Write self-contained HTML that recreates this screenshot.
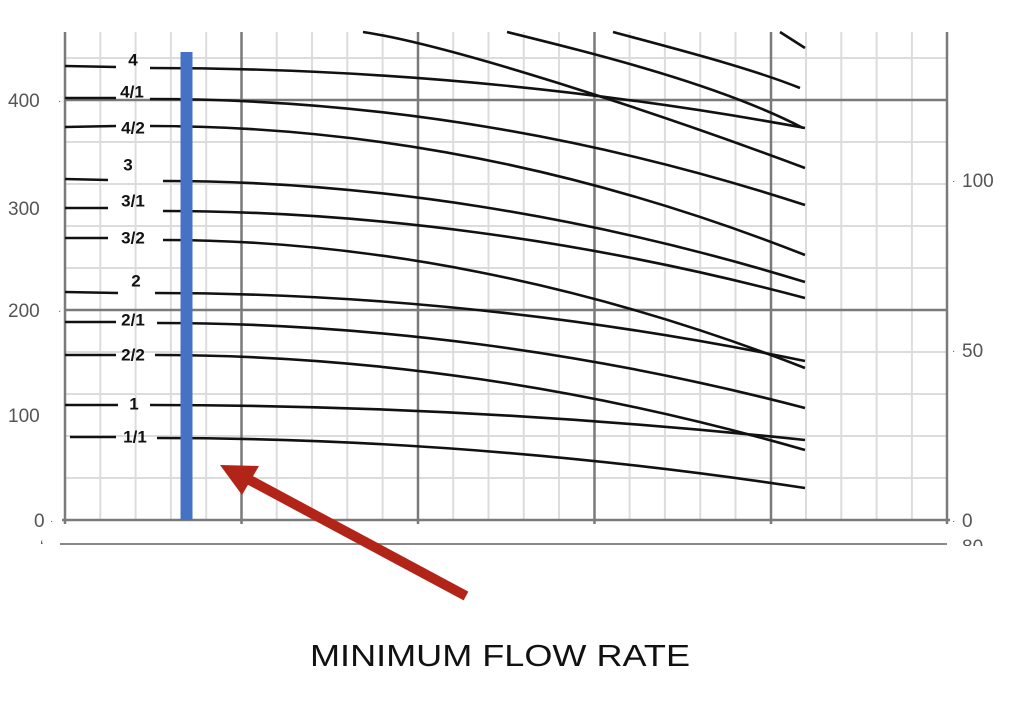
<!DOCTYPE html>
<html><head><meta charset="utf-8"><style>
html,body{margin:0;padding:0;background:#fff;width:1024px;height:725px;overflow:hidden}
svg{display:block}
</style></head><body>
<svg width="1024" height="725" viewBox="0 0 1024 725" xmlns="http://www.w3.org/2000/svg">
<g stroke="#dcdcdc" stroke-width="2">
<line x1="100.3" y1="32" x2="100.3" y2="520"/><line x1="135.6" y1="32" x2="135.6" y2="520"/><line x1="170.9" y1="32" x2="170.9" y2="520"/><line x1="206.2" y1="32" x2="206.2" y2="520"/>
<line x1="276.7" y1="32" x2="276.7" y2="520"/><line x1="312" y1="32" x2="312" y2="520"/><line x1="347.3" y1="32" x2="347.3" y2="520"/><line x1="382.6" y1="32" x2="382.6" y2="520"/>
<line x1="453.2" y1="32" x2="453.2" y2="520"/><line x1="488.5" y1="32" x2="488.5" y2="520"/><line x1="523.8" y1="32" x2="523.8" y2="520"/><line x1="559" y1="32" x2="559" y2="520"/>
<line x1="629.6" y1="32" x2="629.6" y2="520"/><line x1="664.9" y1="32" x2="664.9" y2="520"/><line x1="700.2" y1="32" x2="700.2" y2="520"/><line x1="735.5" y1="32" x2="735.5" y2="520"/>
<line x1="806" y1="32" x2="806" y2="520"/><line x1="841.3" y1="32" x2="841.3" y2="520"/><line x1="876.6" y1="32" x2="876.6" y2="520"/><line x1="911.9" y1="32" x2="911.9" y2="520"/>
<line x1="65" y1="58" x2="947" y2="58"/><line x1="65" y1="142" x2="947" y2="142"/><line x1="65" y1="184" x2="947" y2="184"/><line x1="65" y1="226" x2="947" y2="226"/><line x1="65" y1="268" x2="947" y2="268"/>
<line x1="65" y1="352" x2="947" y2="352"/><line x1="65" y1="394" x2="947" y2="394"/><line x1="65" y1="436" x2="947" y2="436"/><line x1="65" y1="478" x2="947" y2="478"/>
</g>
<g stroke="#7a7a7a" stroke-width="2.5">
<line x1="65" y1="32" x2="65" y2="524"/><line x1="241.5" y1="32" x2="241.5" y2="524"/><line x1="418" y1="32" x2="418" y2="524"/><line x1="594.5" y1="32" x2="594.5" y2="524"/><line x1="771" y1="32" x2="771" y2="524"/><line x1="947" y1="32" x2="947" y2="524"/>
<line x1="65" y1="100" x2="947" y2="100"/><line x1="65" y1="310" x2="947" y2="310"/><line x1="62" y1="520" x2="950" y2="520"/>
</g>
<line x1="60" y1="544" x2="947" y2="544" stroke="#888" stroke-width="2"/>
<g font-family="Liberation Sans, sans-serif" font-size="19" fill="#555">
<text x="8" y="107">400</text><text x="58" y="104" font-size="10">·</text>
<text x="8" y="215">300</text>
<text x="8" y="317">200</text><text x="58" y="314" font-size="10">·</text>
<text x="8" y="422">100</text>
<text x="34" y="527">0</text><text x="50" y="524" font-size="10">·</text>
<text x="40" y="552" font-size="16">ʻ</text>
<text x="952" y="184" font-size="10">·</text><text x="962" y="187">100</text>
<text x="952" y="354" font-size="10">·</text><text x="962" y="357">50</text>
<text x="952" y="524" font-size="10">·</text><text x="962" y="527">0</text>
<text x="962" y="553">80</text>
</g>
<rect x="0" y="546" width="1024" height="10" fill="#fff"/>
<line x1="60" y1="544" x2="947" y2="544" stroke="#888" stroke-width="2"/>
<g stroke="#111" stroke-width="2.6" fill="none">
<path d="M65,66 L116,67"/><path d="M150,68 C368,68 587,88 805,128"/>
<path d="M65,98 L116,98"/><path d="M150,99 C368,99 587,134 805,205"/>
<path d="M65,127 L116,126"/><path d="M150,126 C368,126 587,169 805,255"/>
<path d="M65,179 L108,180"/><path d="M163,181 C368,181 587,215 805,282"/>
<path d="M65,208 L108,208"/><path d="M163,211 C368,211 587,240 805,298"/>
<path d="M65,238 L108,238"/><path d="M163,240 C368,240 587,283 805,368"/>
<path d="M65,292 L118,293"/><path d="M155,293 C368,293 587,316 805,361"/>
<path d="M65,322 L116,322"/><path d="M157,323 C368,323 587,351 805,408"/>
<path d="M65,355 L116,355"/><path d="M155,355 C368,355 587,387 805,450"/>
<path d="M65,405 L118,405"/><path d="M150,405 C368,405 587,417 805,440"/>
<path d="M70,437 L116,437"/><path d="M157,438 C368,438 587,455 805,488"/>
<path d="M363,32 C450,45 650,110 805,168"/>
<path d="M507,32 C600,55 720,85 803,128"/>
<path d="M613,32 C680,50 750,68 800,88"/>
<path d="M780,32 L805,48"/>
</g>
<g font-family="Liberation Sans Narrow, Liberation Sans, sans-serif" font-size="17" font-weight="bold" fill="#111" text-anchor="middle" dominant-baseline="central">
<text x="133" y="60">4</text><text x="132" y="92">4/1</text><text x="133" y="128">4/2</text>
<text x="128" y="165">3</text><text x="133" y="201">3/1</text><text x="133" y="238">3/2</text>
<text x="136" y="281">2</text><text x="133" y="320">2/1</text><text x="133" y="355">2/2</text>
<text x="134" y="404">1</text><text x="135" y="437">1/1</text>
</g>
<rect x="180.5" y="52" width="12" height="468" fill="#4472C4"/>
<line x1="466" y1="596" x2="244" y2="477" stroke="#B22418" stroke-width="10"/>
<polygon points="220,465 259,466 242,495" fill="#B22418"/>
<text x="500" y="666" text-anchor="middle" font-family="Liberation Sans, sans-serif" font-size="31" fill="#111" textLength="380" lengthAdjust="spacingAndGlyphs">MINIMUM FLOW RATE</text>
</svg>
</body></html>
